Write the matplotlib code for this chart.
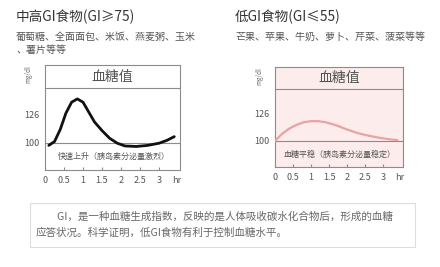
import matplotlib
matplotlib.use("Agg")
import matplotlib.pyplot as plt
from matplotlib.patches import Rectangle

plt.rcParams['font.family'] = ['Noto Sans CJK SC', 'DejaVu Sans']

W, H = 440, 267

# data
left_title = "中高GI食物(GI≥75)"
left_sub = ["葡萄糖、全面面包、米饭、燕麦粥、玉米", "、薯片等等"]
right_title = "低GI食物(GI≤55)"
right_sub = ["芒果、苹果、牛奶、萝卜、芹菜、菠菜等等"]

xticks = [0, 0.5, 1, 1.5, 2, 2.5, 3, 3.45]
xticklabels = ["0", "0.5", "1", "1.5", "2", "2.5", "3", "hr"]
yticks = [100, 126]

high_x = [0.1, 0.25, 0.4, 0.55, 0.7, 0.85, 1.0, 1.15, 1.3, 1.5, 1.7, 1.9, 2.1, 2.4, 2.7, 3.0, 3.2, 3.4]
high_y = [97.5, 101, 112, 127, 137, 140, 137, 128, 119, 111, 104, 99.5, 97, 96.5, 97.5, 99.5, 102, 105.5]

low_x = [0, 0.2, 0.4, 0.6, 0.8, 1.0, 1.2, 1.4, 1.7, 2.0, 2.3, 2.6, 2.9, 3.2, 3.4]
low_y = [100, 107, 112, 115.5, 118, 119, 119, 118, 115, 111, 107.5, 105, 103, 101.5, 100.8]

high_note = "快速上升（胰岛素分泌量激烈）"
low_note = "血糖平稳（胰岛素分泌量稳定）"
band_label = "血糖值"
desc = ["　　GI，是一种血糖生成指数，反映的是人体吸收碳水化合物后，形成的血糖",
        "应答状况。科学证明，低GI食物有利于控制血糖水平。"]

fig = plt.figure(figsize=(W / 100, H / 100), dpi=100)
fig.patch.set_facecolor("white")


def px_axes(x0, y0, x1, y1):
    return fig.add_axes([x0 / W, 1 - y1 / H, (x1 - x0) / W, (y1 - y0) / H])


def draw_chart(ax, xs, ys, color, lw, bg, note):
    ax.set_facecolor(bg)
    ax.set_xlim(0, 3.55)
    ax.set_ylim(75, 171)
    ax.plot(xs, ys, color=color, lw=lw, solid_capstyle="round", zorder=3)
    ax.axhline(100, color="#8c8c8c", lw=0.8, zorder=2)
    ax.axhline(150, color="#8c8c8c", lw=0.8, zorder=2)
    for s in ax.spines.values():
        s.set_color("#8c8c8c")
        s.set_linewidth(0.8)
    ax.set_xticks(xticks)
    ax.set_xticklabels(xticklabels)
    ax.set_yticks(yticks)
    ax.tick_params(axis="x", direction="in", length=2.5, color="#8c8c8c",
                   labelsize=6.5, labelcolor="#555555", pad=4)
    for tl in ax.get_xticklines()[-2:]:
        tl.set_visible(False)
    ax.tick_params(axis="y", length=0, labelsize=6.5, labelcolor="#555555", pad=4)
    ax.text(1.77, 160.5, band_label, ha="center", va="center", fontsize=10, color="#555555")
    ax.text(1.8, 87.5, note, ha="center", va="center", fontsize=5.8, color="#555555")
    ax.text(-0.12, 1.0, "mg/dl", rotation=90, ha="center", va="top", fontsize=4.5,
            color="#666666", transform=ax.transAxes)


ax1 = px_axes(45, 65, 180, 170)
draw_chart(ax1, high_x, high_y, "#111111", 2.0, "white", high_note)

ax2 = px_axes(275, 67, 403, 167)
draw_chart(ax2, low_x, low_y, "#eaa3a3", 1.6, "#fcecec", low_note)

fig.text(16 / W, 1 - 17 / H, left_title, fontsize=9.8, color="#333333", va="center")
for i, line in enumerate(left_sub):
    fig.text(16 / W, 1 - (37 + i * 13) / H, line, fontsize=7.2, color="#555555", va="center")
fig.text(235 / W, 1 - 17 / H, right_title, fontsize=9.8, color="#333333", va="center")
for i, line in enumerate(right_sub):
    fig.text(235 / W, 1 - (37 + i * 13) / H, line, fontsize=7.2, color="#555555", va="center")

fig.patches.append(Rectangle((30 / W, 1 - 247 / H), 385 / W, 44 / H, transform=fig.transFigure,
                             facecolor="white", edgecolor="#dddddd", lw=0.8))
fig.text(36 / W, 1 - 217 / H, desc[0], fontsize=7.6, color="#666666", va="center")
fig.text(36 / W, 1 - 233 / H, desc[1], fontsize=7.6, color="#666666", va="center")

fig.savefig("out.png", dpi=100)
